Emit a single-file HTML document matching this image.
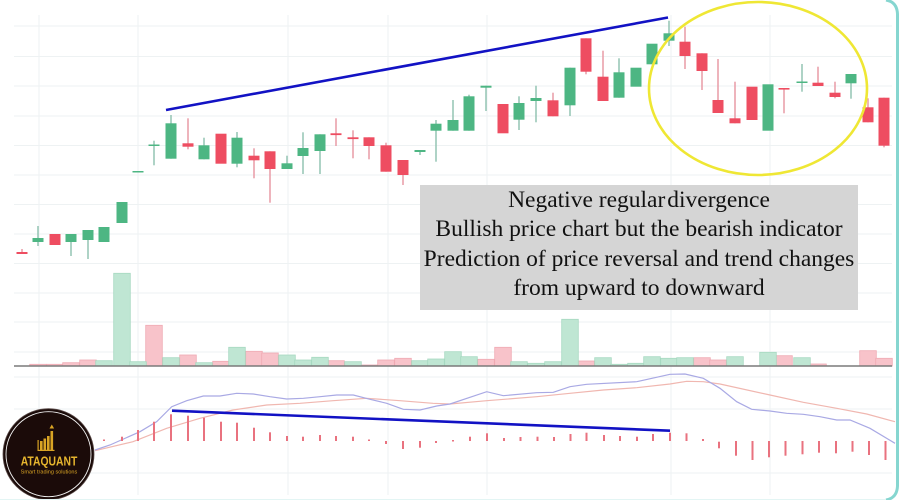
<!DOCTYPE html>
<html><head><meta charset="utf-8"><style>
html,body{margin:0;padding:0;background:#fff;}
#wrap{position:relative;width:900px;height:500px;overflow:hidden;background:#fff;}
svg{position:absolute;left:0;top:0;}
#box{position:absolute;left:420px;top:185px;width:438px;height:125px;background:#d5d5d5;}
#txt{position:absolute;left:420px;top:185.6px;width:438px;text-align:center;font-family:"Liberation Serif",serif;font-size:23.5px;line-height:29.5px;color:#111;white-space:nowrap;}
</style></head><body><div id="wrap">
<svg width="900" height="500" viewBox="0 0 900 500" xmlns="http://www.w3.org/2000/svg">
<!-- grid -->
<g stroke="#eef2f3" stroke-width="1">
<line x1="39" y1="15" x2="39" y2="495"/><line x1="138" y1="15" x2="138" y2="495"/><line x1="288" y1="15" x2="288" y2="495"/><line x1="388" y1="15" x2="388" y2="495"/><line x1="487" y1="15" x2="487" y2="495"/><line x1="671" y1="15" x2="671" y2="495"/><line x1="770" y1="15" x2="770" y2="495"/>
<line x1="14" y1="26" x2="892" y2="26"/><line x1="14" y1="56.5" x2="892" y2="56.5"/><line x1="14" y1="86" x2="892" y2="86"/><line x1="14" y1="116" x2="892" y2="116"/><line x1="14" y1="145.5" x2="892" y2="145.5"/><line x1="14" y1="175" x2="892" y2="175"/><line x1="14" y1="204.5" x2="892" y2="204.5"/><line x1="14" y1="234" x2="892" y2="234"/><line x1="14" y1="263.5" x2="892" y2="263.5"/><line x1="14" y1="293" x2="892" y2="293"/><line x1="14" y1="322" x2="892" y2="322"/><line x1="14" y1="352" x2="892" y2="352"/><line x1="14" y1="377" x2="892" y2="377"/><line x1="14" y1="409" x2="892" y2="409"/><line x1="14" y1="473" x2="892" y2="473"/>
</g>
<!-- volume -->
<g stroke-width="0.8">
<g fill="#f8c3ca" stroke="#efaab3">
<rect x="29.7" y="364.3" width="16.6" height="1.7"/><rect x="46.7" y="364.3" width="16.6" height="1.7"/><rect x="62.7" y="362.7" width="16.6" height="3.3"/><rect x="79.7" y="360" width="16.6" height="6"/>
<rect x="145.7" y="325.3" width="16.6" height="40.7"/><rect x="179.7" y="355" width="16.6" height="11"/><rect x="212.7" y="361.3" width="16.6" height="4.7"/><rect x="245.7" y="351.3" width="16.6" height="14.7"/><rect x="261.7" y="353" width="16.6" height="13"/>
<rect x="327.7" y="360.7" width="16.6" height="5.3"/><rect x="360.7" y="365" width="16.6" height="1"/><rect x="377.7" y="360" width="16.6" height="6"/><rect x="394.7" y="358.3" width="16.6" height="7.7"/>
<rect x="477.7" y="359.3" width="16.6" height="6.7"/><rect x="494.7" y="347.3" width="16.6" height="18.7"/><rect x="577.7" y="361" width="16.6" height="5"/>
<rect x="693.7" y="357.7" width="16.6" height="8.3"/><rect x="709.7" y="360" width="16.6" height="6"/><rect x="775.7" y="355.7" width="16.6" height="10.3"/><rect x="809.7" y="364" width="16.6" height="2"/><rect x="859.7" y="350.7" width="16.6" height="15.3"/><rect x="875.7" y="358.3" width="16.6" height="7.7"/>
</g>
<g fill="#bfe6d3" stroke="#a7d9c1">
<rect x="95.7" y="360.7" width="16.6" height="5.3"/><rect x="113.7" y="273.3" width="16.6" height="92.7"/><rect x="129.7" y="361.7" width="16.6" height="4.3"/><rect x="162.7" y="357.7" width="16.6" height="8.3"/><rect x="195.7" y="362.7" width="16.6" height="3.3"/><rect x="228.7" y="347.3" width="16.6" height="18.7"/>
<rect x="278.7" y="355" width="16.6" height="11"/><rect x="294.7" y="360" width="16.6" height="6"/><rect x="311.7" y="357.3" width="16.6" height="8.7"/><rect x="344.7" y="361.7" width="16.6" height="4.3"/>
<rect x="411.7" y="360.7" width="16.6" height="5.3"/><rect x="427.7" y="359" width="16.6" height="7"/><rect x="444.7" y="351.7" width="16.6" height="14.3"/><rect x="460.7" y="356.7" width="16.6" height="9.3"/>
<rect x="510.7" y="361.7" width="16.6" height="4.3"/><rect x="527.7" y="363.3" width="16.6" height="2.7"/><rect x="544.7" y="361.7" width="16.6" height="4.3"/><rect x="561.7" y="319.3" width="16.6" height="46.7"/>
<rect x="594.7" y="357.7" width="16.6" height="8.3"/><rect x="610.7" y="364.3" width="16.6" height="1.7"/><rect x="627.7" y="363.3" width="16.6" height="2.7"/><rect x="643.7" y="356.7" width="16.6" height="9.3"/><rect x="660.7" y="358.3" width="16.6" height="7.7"/><rect x="676.7" y="357.7" width="16.6" height="8.3"/>
<rect x="726.7" y="356.7" width="16.6" height="9.3"/><rect x="759.7" y="352.3" width="16.6" height="13.7"/><rect x="793.7" y="357.7" width="16.6" height="8.3"/>
</g>
</g>
<line x1="14" y1="366" x2="892" y2="366" stroke="#7a7a7a" stroke-width="1.5"/>
<!-- wicks -->
<g stroke="#e99aa6" stroke-width="1.5">
<line x1="22" y1="249" x2="22" y2="254"/><line x1="188" y1="118.3" x2="188" y2="149.3"/><line x1="254" y1="148.3" x2="254" y2="178.3"/><line x1="270" y1="151.3" x2="270" y2="202.7"/>
<line x1="336" y1="118.3" x2="336" y2="146"/><line x1="353" y1="130.3" x2="353" y2="158.3"/><line x1="369" y1="137.3" x2="369" y2="159.3"/><line x1="386" y1="142.7" x2="386" y2="171.7"/><line x1="403" y1="160" x2="403" y2="185"/>
<line x1="553" y1="92.7" x2="553" y2="116.3"/><line x1="586" y1="38.3" x2="586" y2="74.3"/><line x1="603" y1="50.7" x2="603" y2="101"/><line x1="685" y1="26.7" x2="685" y2="69"/><line x1="702" y1="53.3" x2="702" y2="90"/><line x1="718" y1="59" x2="718" y2="113"/><line x1="735" y1="81.7" x2="735" y2="123.3"/>
<line x1="784" y1="88" x2="784" y2="113.3"/><line x1="818" y1="66.7" x2="818" y2="86"/><line x1="835" y1="81.7" x2="835" y2="98.3"/><line x1="868" y1="98.3" x2="868" y2="122.3"/><line x1="884" y1="97.7" x2="884" y2="147.3"/>
</g>
<g stroke="#93c4b3" stroke-width="1.5">
<line x1="38" y1="226" x2="38" y2="246"/><line x1="71" y1="234" x2="71" y2="256"/><line x1="88" y1="230" x2="88" y2="259"/><line x1="154" y1="140.7" x2="154" y2="165.3"/><line x1="171" y1="115" x2="171" y2="158.7"/><line x1="204" y1="137.7" x2="204" y2="159.3"/><line x1="237" y1="132" x2="237" y2="167.3"/><line x1="287" y1="155.7" x2="287" y2="169"/>
<line x1="303" y1="132.3" x2="303" y2="174"/><line x1="320" y1="134.3" x2="320" y2="174"/><line x1="420" y1="150" x2="420" y2="155"/><line x1="436" y1="120" x2="436" y2="161.7"/><line x1="453" y1="100" x2="453" y2="130.7"/><line x1="469" y1="94.7" x2="469" y2="130.7"/><line x1="486" y1="85.7" x2="486" y2="111"/>
<line x1="519" y1="96.3" x2="519" y2="130"/><line x1="536" y1="85.7" x2="536" y2="122.3"/><line x1="570" y1="67.7" x2="570" y2="116"/><line x1="619" y1="58.3" x2="619" y2="97.7"/><line x1="669" y1="20.7" x2="669" y2="46"/><line x1="802" y1="64" x2="802" y2="91.7"/><line x1="851" y1="74" x2="851" y2="98.7"/>
</g>
<!-- bodies -->
<g fill="#ee4d61">
<rect x="16.5" y="252" width="11" height="2"/><rect x="49.5" y="234" width="11" height="11"/><rect x="182.5" y="143.3" width="11" height="3.4"/><rect x="215.5" y="133.7" width="11" height="30"/><rect x="248.5" y="155.7" width="11" height="4.6"/><rect x="264.5" y="151.3" width="11" height="17.7"/>
<rect x="330.5" y="133.3" width="11" height="1.8"/><rect x="347.5" y="137.3" width="11" height="1.8"/><rect x="363.5" y="137.3" width="11" height="8.7"/><rect x="380.5" y="145.3" width="11" height="26.4"/><rect x="397.5" y="160" width="11" height="15"/>
<rect x="497.5" y="104" width="11" height="29.3"/><rect x="547.5" y="100.3" width="11" height="16"/><rect x="580.5" y="38.3" width="11" height="33.4"/><rect x="597.5" y="76.7" width="11" height="24.3"/>
<rect x="679.5" y="41.7" width="11" height="14.3"/><rect x="696.5" y="53.3" width="11" height="17.7"/><rect x="712.5" y="100" width="11" height="13"/><rect x="729.5" y="118.3" width="11" height="5"/><rect x="746.5" y="86.7" width="11" height="33.3"/>
<rect x="778.5" y="88" width="11" height="1.6"/><rect x="812.5" y="82.7" width="11" height="3.3"/><rect x="829.5" y="92.7" width="11" height="4.3"/><rect x="862.5" y="107.3" width="11" height="15"/><rect x="878.5" y="97.7" width="11" height="48"/>
</g>
<g fill="#4db683">
<rect x="32.5" y="238" width="11" height="4"/><rect x="65.5" y="234" width="11" height="8"/><rect x="82.5" y="230" width="11" height="10"/><rect x="98.5" y="227" width="11" height="15"/><rect x="116.5" y="202" width="11" height="21"/><rect x="132.5" y="171" width="11" height="1.5"/><rect x="148.5" y="144.5" width="11" height="1.5"/>
<rect x="165.5" y="123.3" width="11" height="35.4"/><rect x="198.5" y="145.3" width="11" height="14"/><rect x="231.5" y="137.7" width="11" height="26"/><rect x="281.5" y="163.3" width="11" height="5.7"/><rect x="297.5" y="148" width="11" height="8"/><rect x="314.5" y="134.3" width="11" height="16.7"/>
<rect x="414.5" y="150" width="11" height="2"/><rect x="430.5" y="123.7" width="11" height="7"/><rect x="447.5" y="120" width="11" height="10.7"/><rect x="463.5" y="96.3" width="11" height="34.4"/><rect x="480.5" y="85.7" width="11" height="2"/>
<rect x="513.5" y="103" width="11" height="16.7"/><rect x="530.5" y="98" width="11" height="3"/><rect x="564.5" y="67.7" width="11" height="37.6"/><rect x="613.5" y="72.3" width="11" height="25.4"/><rect x="630.5" y="67.7" width="11" height="19"/><rect x="646.5" y="43.7" width="11" height="20.6"/><rect x="663.5" y="33.3" width="11" height="7.4"/>
<rect x="762.5" y="84.3" width="11" height="46.4"/><rect x="796.5" y="81.5" width="11" height="1.5"/><rect x="845.5" y="74" width="11" height="9.3"/>
</g>
<!-- price divergence line -->
<line x1="166" y1="110" x2="668" y2="17.5" stroke="#1212c4" stroke-width="2.6"/>
<!-- ellipse -->
<ellipse cx="758" cy="88.5" rx="109" ry="86.5" fill="none" stroke="#efe734" stroke-width="2.6"/>
<!-- MACD lines -->
<polyline fill="none" stroke="#f0b7b0" stroke-width="1.2" points="95,450.7 133,441.7 166.7,428.3 200,418.3 233,410 266.7,405 300,403.3 333,400.7 366.7,398.3 400,400.7 433,403.3 450,404 486.7,400.7 536.7,396.7 570,393.3 603.3,390 636.7,387.7 670,384 686.7,381.3 703.3,381.7 720,384 770,395 803.3,402.3 836.7,408.3 866.7,414 895,421.7"/>
<polyline fill="none" stroke="#a9a9e4" stroke-width="1.2" points="95,450 110,445 140,431.7 156.7,421.7 171.7,406.7 186.7,400.7 203.3,396 220,396 236.7,393.3 253.3,394 270,396.7 286.7,399 303.3,398.3 320,396.7 336.7,395 353.3,395 370,399.3 386.7,403.3 403.3,409.3 420,410 436.7,406 450,404 486.7,391.7 503.3,395.7 536.7,392.7 553.3,392.3 570,386.7 586.7,384.3 636.7,381.7 670,374.3 685,374 703.3,378.3 720,388.3 736.7,401.7 751.7,409.3 770,411 786.7,413.3 803.3,414.3 820,416.7 836.7,420 850,420 870,428.3 895,443.3"/>
<!-- histogram -->
<g stroke="#e9727f" stroke-width="2">
<line x1="104" y1="439.5" x2="104" y2="441"/><line x1="122" y1="436.7" x2="122" y2="441"/><line x1="138" y1="430" x2="138" y2="441"/><line x1="154" y1="421.7" x2="154" y2="441"/><line x1="171" y1="414.3" x2="171" y2="441"/><line x1="188" y1="415.7" x2="188" y2="441"/><line x1="204" y1="417.7" x2="204" y2="441"/><line x1="221" y1="421.7" x2="221" y2="441"/><line x1="237" y1="422.7" x2="237" y2="441"/><line x1="254" y1="427.7" x2="254" y2="441"/><line x1="270" y1="432.3" x2="270" y2="441"/><line x1="287" y1="436" x2="287" y2="441"/><line x1="303" y1="436.7" x2="303" y2="441"/><line x1="320" y1="435" x2="320" y2="441"/><line x1="336" y1="436" x2="336" y2="441"/><line x1="353" y1="436.7" x2="353" y2="441"/><line x1="369" y1="439.5" x2="369" y2="441"/>
<line x1="386" y1="441" x2="386" y2="444"/><line x1="403" y1="441" x2="403" y2="449"/><line x1="420" y1="441" x2="420" y2="447.7"/><line x1="436" y1="441" x2="436" y2="443"/><line x1="453" y1="440" x2="453" y2="441.5"/>
<line x1="470" y1="436.7" x2="470" y2="441"/><line x1="487" y1="433.3" x2="487" y2="441"/><line x1="504" y1="438" x2="504" y2="441"/><line x1="520.5" y1="437" x2="520.5" y2="441"/><line x1="537.5" y1="436.7" x2="537.5" y2="441"/><line x1="554" y1="437" x2="554" y2="441"/><line x1="570.5" y1="434" x2="570.5" y2="441"/><line x1="586.5" y1="432.7" x2="586.5" y2="441"/><line x1="604" y1="435" x2="604" y2="441"/><line x1="620" y1="436" x2="620" y2="441"/><line x1="637" y1="436.7" x2="637" y2="441"/><line x1="653" y1="434" x2="653" y2="441"/><line x1="670" y1="432.7" x2="670" y2="441"/><line x1="686.5" y1="433.3" x2="686.5" y2="441"/><line x1="703" y1="439" x2="703" y2="441"/>
<line x1="719" y1="441.7" x2="719" y2="448.3"/><line x1="736" y1="441" x2="736" y2="455.7"/><line x1="752.5" y1="441" x2="752.5" y2="460"/><line x1="769" y1="441" x2="769" y2="457.3"/><line x1="785.5" y1="441" x2="785.5" y2="455.7"/><line x1="802.5" y1="441" x2="802.5" y2="454.3"/><line x1="819" y1="441" x2="819" y2="452.7"/><line x1="836" y1="441" x2="836" y2="453.3"/><line x1="852.5" y1="441" x2="852.5" y2="451.7"/><line x1="869" y1="441" x2="869" y2="455"/><line x1="885.5" y1="441" x2="885.5" y2="460"/>
</g>
<!-- indicator divergence line -->
<line x1="172" y1="410.7" x2="670" y2="430.7" stroke="#1212c4" stroke-width="2.6"/>
<!-- logo -->
<circle cx="48.5" cy="454.2" r="45.5" fill="#1b0b09" stroke="#5a4a48" stroke-width="0.8"/>
<circle cx="48.5" cy="454.2" r="42.5" fill="none" stroke="#f2f2f2" stroke-width="0.9"/>
<g fill="#d9a424">
<rect x="37.5" y="440" width="1.2" height="11"/><rect x="37.5" y="449.8" width="17" height="1.2"/>
<rect x="40" y="441" width="2.6" height="9"/><rect x="43.5" y="438.5" width="2.6" height="11.5"/><rect x="47" y="436" width="2.6" height="14"/><rect x="50.5" y="431" width="2.6" height="19"/>
<polygon points="51.8,424.5 49.5,428.5 54.1,428.5"/>
</g>
<text x="20.7" y="465.7" font-family="Liberation Sans, sans-serif" font-weight="bold" font-size="12.6" fill="#e6b52e" textLength="56.6" lengthAdjust="spacingAndGlyphs">ATAQUANT</text>
<text x="20.7" y="473.3" font-family="Liberation Sans, sans-serif" font-size="5" fill="#d9a424" textLength="56.6" lengthAdjust="spacingAndGlyphs">Smart trading solutions</text>
<!-- frame -->
<path d="M886,0 Q897,2 897.5,14 L897.5,486 Q897,498 886,500" fill="none" stroke="#86d6d0" stroke-width="3"/>
<line x1="0" y1="499.5" x2="886" y2="499.5" stroke="#e3f5f4" stroke-width="1"/>
</svg>
<div id="box"></div>
<div id="txt">Negative regular&#8202;divergence<br>Bullish price chart but the bearish indicator<br>Prediction of price reversal and trend changes<br>from upward to downward</div>
</div></body></html>
